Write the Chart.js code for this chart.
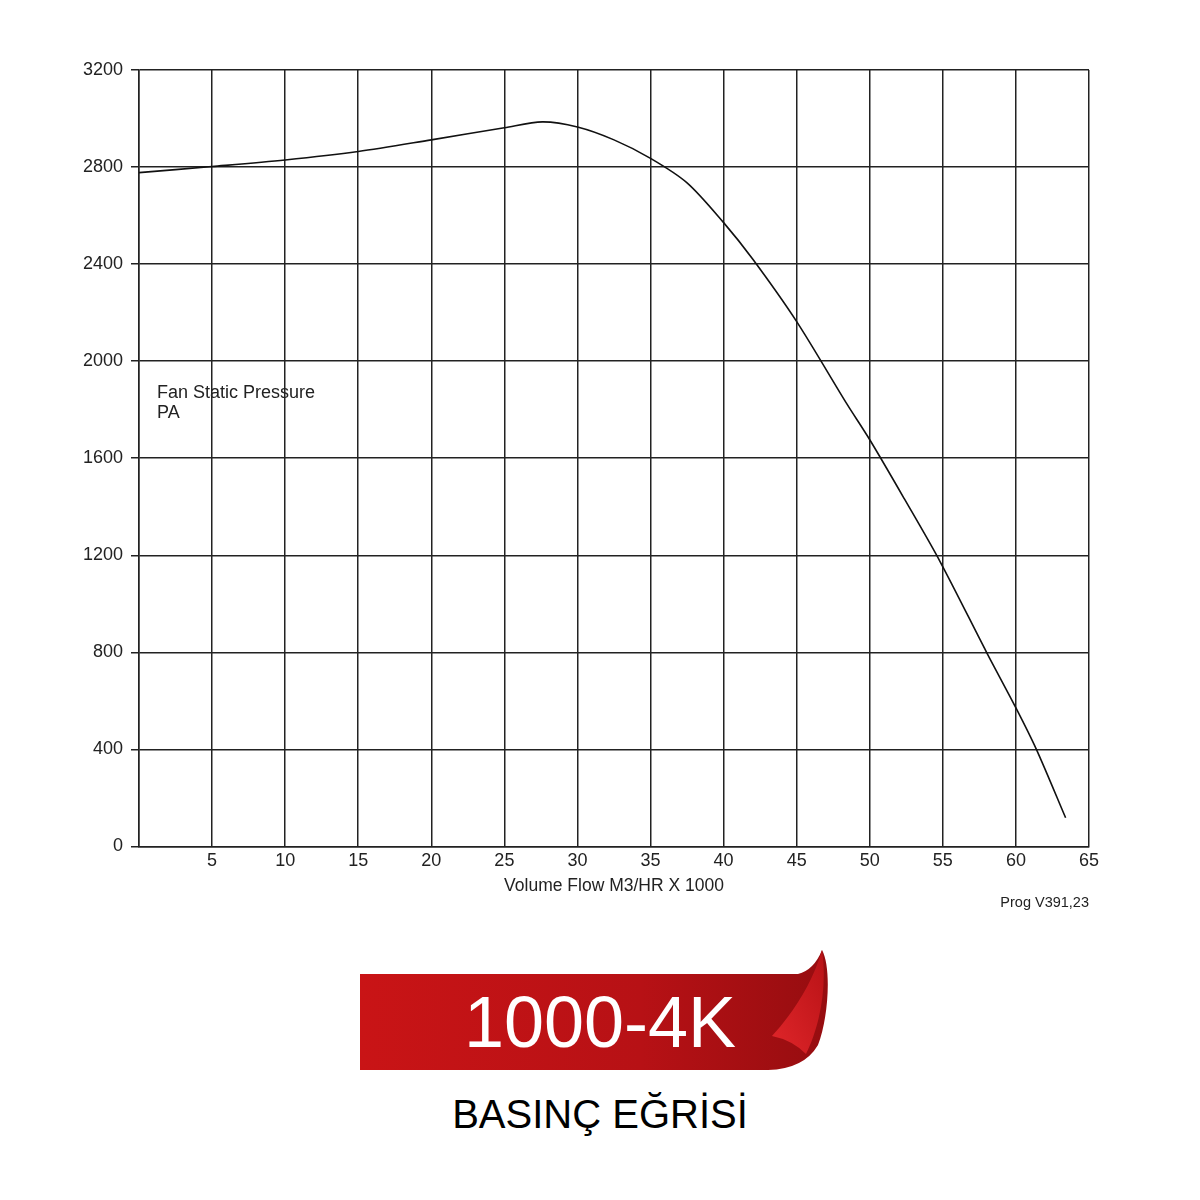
<!DOCTYPE html>
<html>
<head>
<meta charset="utf-8">
<script src="https://cdn.jsdelivr.net/npm/chart.js@4.4.1/dist/chart.umd.min.js"></script>
<style>
  html,body{margin:0;padding:0;background:#fff;}
  body{width:1200px;height:1200px;position:relative;overflow:hidden;font-family:"Liberation Sans",Arial,sans-serif;}
  #wrap{position:absolute;left:0;top:0;width:1200px;height:930px;}
  #banner{position:absolute;left:0;top:0;width:1200px;height:1200px;pointer-events:none;}
  .model{position:absolute;left:0;width:1200px;text-align:center;color:#fff;font-size:72px;line-height:72px;top:986px;}
  .sub{position:absolute;left:0;width:1200px;text-align:center;color:#000;font-size:40px;line-height:40px;top:1094px;}
</style>
</head>
<body>
<svg id="banner" width="1200" height="1200" viewBox="0 0 1200 1200">
  <defs>
    <linearGradient id="red" x1="0" y1="0" x2="1" y2="0">
      <stop offset="0" stop-color="#c91416"/>
      <stop offset="0.6" stop-color="#b71115"/>
      <stop offset="1" stop-color="#960d10"/>
    </linearGradient>
    <linearGradient id="fold" x1="0" y1="1" x2="1" y2="0">
      <stop offset="0" stop-color="#e0262a"/>
      <stop offset="1" stop-color="#b81216"/>
    </linearGradient>
  </defs>
  <path d="M360,974 L798,974 Q814,970 822,950 C832,968 828,1020 818,1045 Q804,1069 768,1070 L360,1070 Z" fill="url(#red)"/>
  <path d="M822,950 C812,985 792,1014 772,1036 Q792,1040 806,1054 C818,1030 828,990 822,950 Z" fill="url(#fold)"/>
</svg>
<div class="model">1000-4K</div>
<div class="sub">BASINÇ EĞRİSİ</div>
<div id="wrap"><canvas id="chart"></canvas></div>
<script>
// volume flow (m3/h x 1000) and static pressure (Pa)
const flow = [0, 5, 10, 15, 20, 25, 27.6, 30, 32.5, 35, 37.5, 40, 42, 45, 48.4, 50, 52.4, 54.8, 58, 60, 61.4, 63.4];
const pressure = [2777, 2802, 2829, 2864, 2912, 2962, 2986, 2965, 2912, 2836, 2735, 2571, 2420, 2163, 1827, 1676, 1429, 1175, 799, 571, 400, 118];
const xTicks = [0, 65, 5];      // min, max, step
const yTicks = [0, 3200, 400];

const font = "'Liberation Sans', Arial, sans-serif";
const ink = '#222';

const notes = {
  id: 'notes',
  afterDraw(c){
    const ctx = c.ctx, a = c.chartArea;
    ctx.save();
    ctx.fillStyle = ink;
    ctx.textBaseline = 'alphabetic';
    ctx.font = `18px ${font}`;
    ctx.textAlign = 'left';
    ctx.fillText('Fan Static Pressure', a.left + 18, 398);
    ctx.fillText('PA', a.left + 18, 418);
    ctx.font = `14.5px ${font}`;
    ctx.textAlign = 'right';
    ctx.fillText('Prog V391,23', a.right, 907);
    ctx.restore();
  }
};

const points = flow.map((x, i) => ({x, y: pressure[i]}));

new Chart(document.getElementById('chart'), {
  type: 'scatter',
  data: {
    datasets: [{
      data: points,
      showLine: true,
      borderColor: '#111',
      borderWidth: 1.6,
      pointRadius: 0,
      tension: 0.3
    }]
  },
  options: {
    responsive: true,
    maintainAspectRatio: false,
    animation: false,
    devicePixelRatio: 1,
    layout: {padding: {left: 0, right: 111, top: 70, bottom: 29}},
    plugins: {legend: {display: false}, tooltip: {enabled: false}},
    scales: {
      x: {
        type: 'linear',
        min: xTicks[0], max: xTicks[1],
        ticks: {
          stepSize: xTicks[2],
          padding: 4,
          color: ink,
          font: {family: font, size: 18},
          maxRotation: 0,
          callback: v => v === 0 ? '' : String(v)
        },
        grid: {color: ink, lineWidth: 1.5, drawTicks: false},
        border: {color: ink, width: 1.5},
        title: {
          display: true,
          text: 'Volume Flow M3/HR X 1000',
          color: ink,
          font: {family: font, size: 17.5},
          padding: {top: 0, bottom: 4}
        }
      },
      y: {
        min: yTicks[0], max: yTicks[1],
        afterFit: s => { s.width = 139; },
        ticks: {
          stepSize: yTicks[2],
          padding: 8,
          color: ink,
          font: {family: font, size: 18},
          callback: v => String(v)
        },
        grid: {color: ink, lineWidth: 1.5, tickLength: 8},
        border: {color: ink, width: 1.5}
      }
    }
  },
  plugins: [notes]
});
</script>
</body>
</html>
